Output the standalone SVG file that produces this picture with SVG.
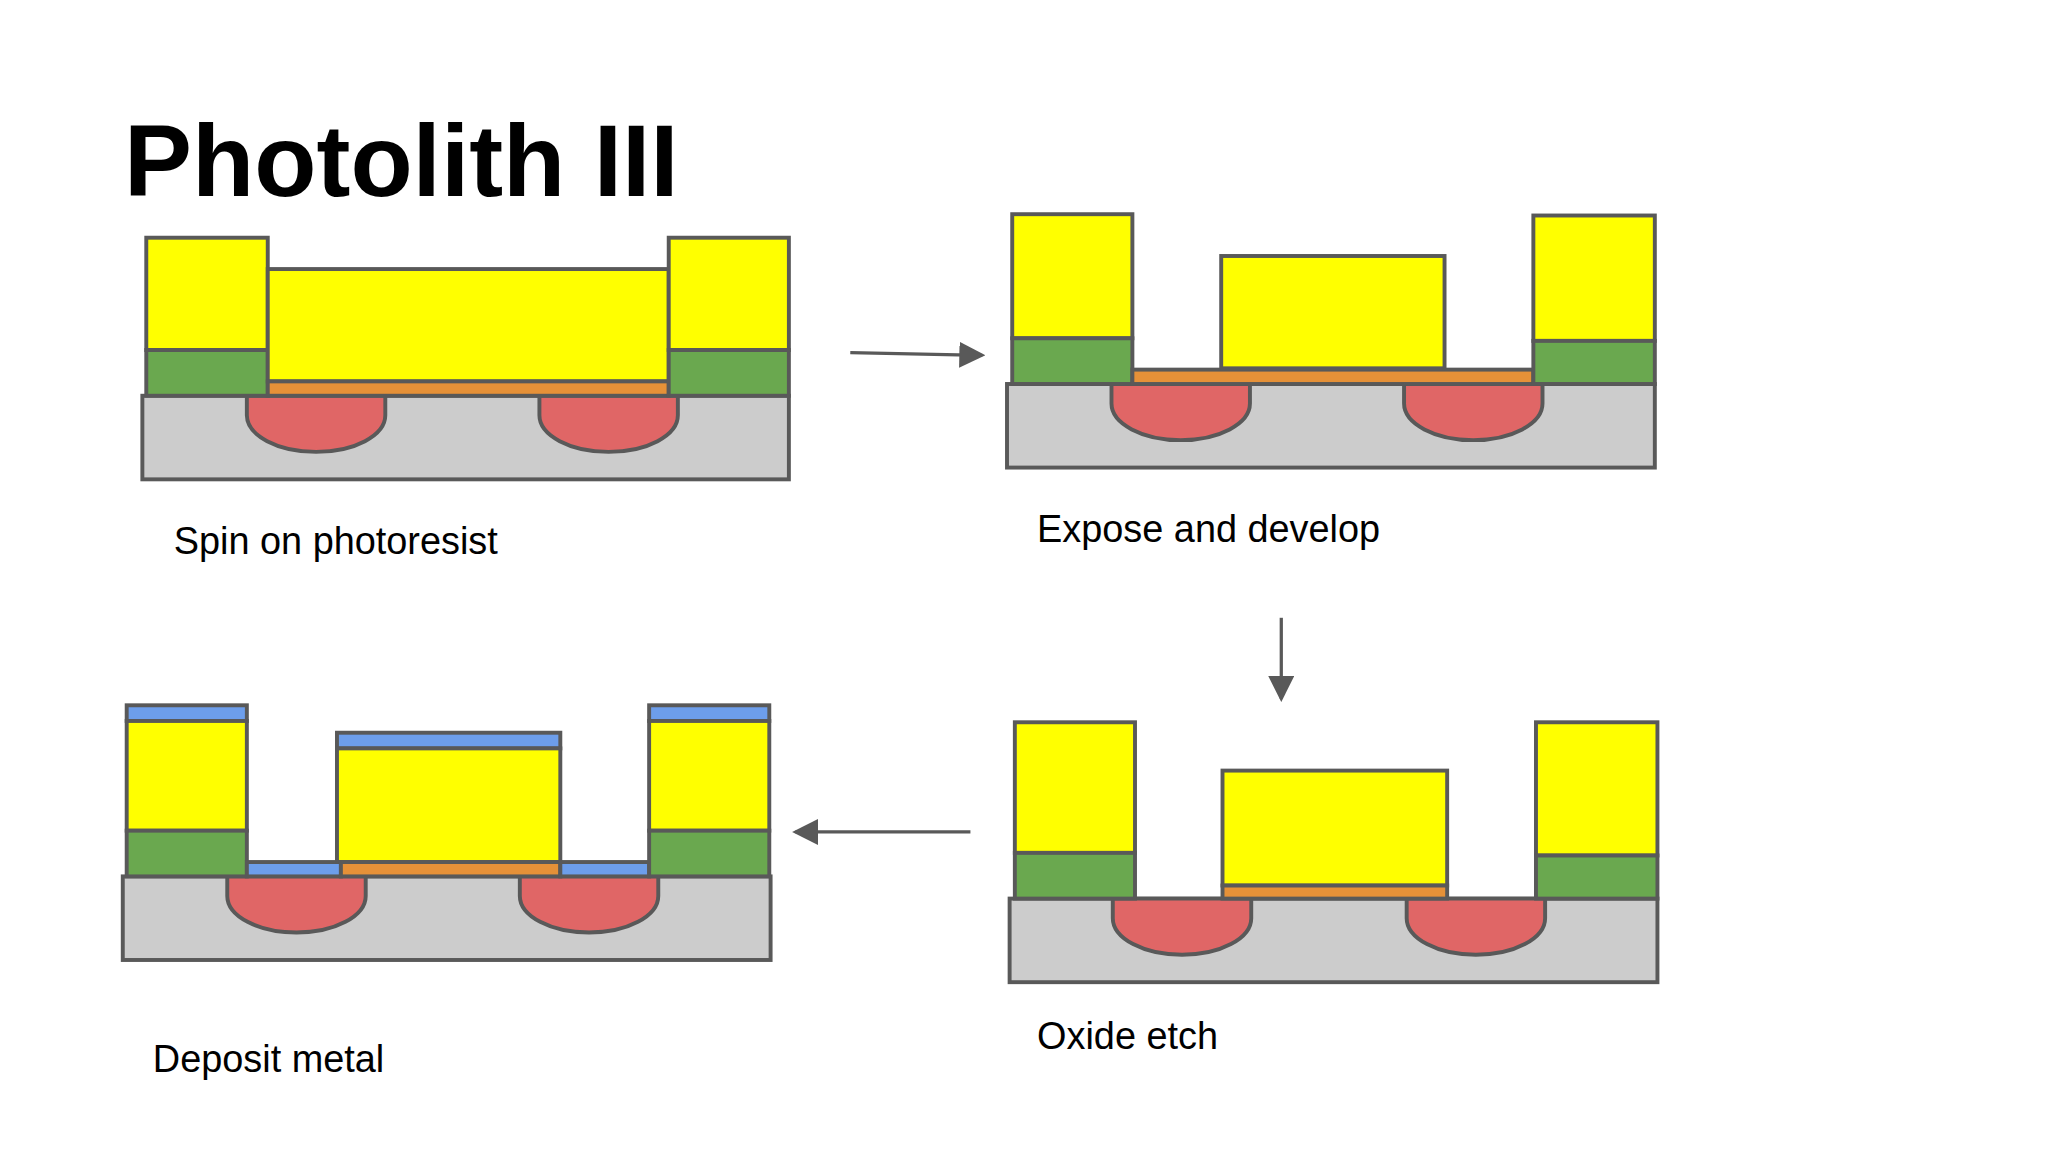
<svg xmlns="http://www.w3.org/2000/svg" width="2048" height="1152" viewBox="0 0 2048 1152">
<style>
rect,path{stroke:#595959;stroke-width:3}
.y{fill:#ffff00}.g{fill:#6aa84f}.o{fill:#e69138}.s{fill:#cccccc}.r{fill:#e06666}.b{fill:#6d9eeb}
text{font-family:"Liberation Sans",Arial,sans-serif;fill:#000}
.l{font-size:29px}
.c{stroke:#595959;stroke-width:2.5;fill:none}
</style>
<defs><marker id="a" markerWidth="8" markerHeight="8" refX="7" refY="4" orient="auto" markerUnits="strokeWidth"><path d="M0,0L8,4L0,8z" fill="#595959" style="stroke:none"/></marker></defs>
<rect width="2048" height="1152" fill="#fff" style="stroke:none"/>
<g transform="scale(1.3061)">
<text x="95" y="150" font-size="78" font-weight="bold">Photolith III</text>
<g id="p1">
<rect class="s" x="109" y="303" width="495" height="64"/>
<path class="r" d="M189,303v15a53,28 0 0 0 106,0v-15z"/>
<path class="r" d="M413,303v15a53,28 0 0 0 106,0v-15z"/>
<rect class="y" x="112" y="182" width="93" height="86"/><rect class="g" x="112" y="268" width="93" height="35"/>
<rect class="y" x="205" y="206" width="307" height="86"/><rect class="o" x="205" y="292" width="307" height="11"/>
<rect class="y" x="512" y="182" width="92" height="86"/><rect class="g" x="512" y="268" width="92" height="35"/>
<text class="l" x="133" y="424">Spin on photoresist</text>
</g>
<g id="p2">
<rect class="s" x="771" y="294" width="496" height="64"/>
<path class="r" d="M851,294v15a53,28 0 0 0 106,0v-15z"/>
<path class="r" d="M1075,294v15a53,28 0 0 0 106,0v-15z"/>
<rect class="y" x="775" y="164" width="92" height="95"/><rect class="g" x="775" y="259" width="92" height="35"/>
<rect class="y" x="935" y="196" width="171" height="86"/><rect class="o" x="867" y="283" width="307" height="11"/>
<rect class="y" x="1174" y="165" width="93" height="96"/><rect class="g" x="1174" y="261" width="93" height="33"/>
<text class="l" x="794" y="415">Expose and develop</text>
</g>
<g id="p3">
<rect class="s" x="773" y="688" width="496" height="64"/>
<path class="r" d="M852,688v15a53,28 0 0 0 106,0v-15z"/>
<path class="r" d="M1077,688v15a53,28 0 0 0 106,0v-15z"/>
<rect class="y" x="777" y="553" width="92" height="100"/><rect class="g" x="777" y="653" width="92" height="35"/>
<rect class="y" x="936" y="590" width="172" height="88"/><rect class="o" x="936" y="678" width="172" height="10"/>
<rect class="y" x="1176" y="553" width="93" height="102"/><rect class="g" x="1176" y="655" width="93" height="33"/>
<text class="l" x="794" y="803">Oxide etch</text>
</g>
<g id="p4">
<rect class="s" x="94" y="671" width="496" height="64"/>
<path class="r" d="M174,671v15a53,28 0 0 0 106,0v-15z"/>
<path class="r" d="M398,671v15a53,28 0 0 0 106,0v-15z"/>
<rect class="b" x="97" y="540" width="92" height="12"/><rect class="y" x="97" y="552" width="92" height="84"/><rect class="g" x="97" y="636" width="92" height="35"/>
<rect class="b" x="189" y="660" width="72" height="11"/>
<rect class="b" x="258" y="561" width="171" height="12"/><rect class="y" x="258" y="573" width="171" height="87"/><rect class="o" x="261" y="660" width="168" height="11"/>
<rect class="b" x="429" y="660" width="68" height="11"/>
<rect class="b" x="497" y="540" width="92" height="12"/><rect class="y" x="497" y="552" width="92" height="84"/><rect class="g" x="497" y="636" width="92" height="35"/>
<text class="l" x="117" y="821">Deposit metal</text>
</g>
<g id="connectors">
<path class="c" d="M651,270L752,272" marker-end="url(#a)"/>
<path class="c" d="M981,473V535" marker-end="url(#a)"/>
<path class="c" d="M743,637H609" marker-end="url(#a)"/>
</g>
</g>
</svg>
